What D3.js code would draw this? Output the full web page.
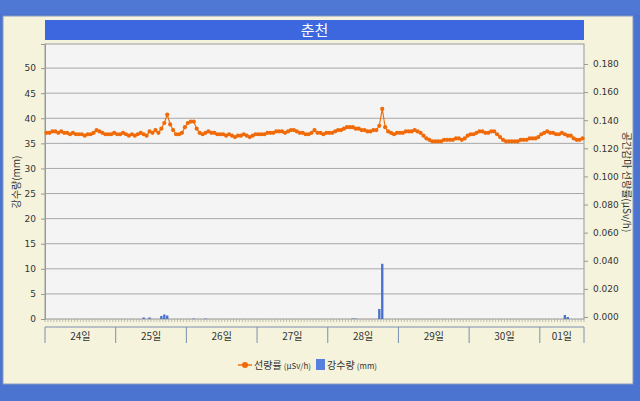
<!DOCTYPE html>
<html><head><meta charset="utf-8">
<script src="https://cdn.jsdelivr.net/npm/d3@7"></script>
<style>body{margin:0;background:#fff}svg{display:block;font-family:"Noto Sans CJK KR","DejaVu Sans",sans-serif}</style>
</head><body><svg id="c" width="640" height="401"></svg>
<script>
const title = "춘천";
const dayLabels = ["24일","25일","26일","27일","28일","29일","30일","01일"];
const hoursPerDay = [24,24,24,24,24,24,24,15];
const leftTicks = [0,5,10,15,20,25,30,35,40,45,50];
const rightTicks = [0,0.02,0.04,0.06,0.08,0.1,0.12,0.14,0.16,0.18];
// dose rate (µSv/h ×1000), hourly
const dose = [
131,131,132,132,131,132,131,131,130,131,130,130,130,129,130,130,131,133,132,131,130,130,130,131,
130,130,131,130,129,130,129,130,131,130,129,132,131,133,131,134,138,144,137,133,130,130,131,135,
138,139,139,134,131,130,131,132,131,131,130,130,130,129,130,129,128,129,129,130,129,128,129,130,
130,130,130,131,131,131,132,132,132,131,132,133,133,132,131,131,130,130,131,133,131,131,130,131,
131,131,132,133,133,134,135,135,135,134,134,133,133,132,132,133,133,136,148,135,132,131,130,131,
131,131,132,132,132,133,132,131,129,127,126,125,125,125,125,126,126,126,126,127,127,126,127,129,
130,130,131,132,132,131,131,132,132,130,128,126,125,125,125,125,125,126,126,126,127,127,127,128,
130,131,132,131,131,130,130,131,130,129,129,127,126,126,127];
// rainfall (mm): hour index and value
const rainHours = [33,35,39,40,41,50,54,104,105,113,114,176,177];
const rainVals  = [0.3,0.3,0.6,0.9,0.7,0.1,0.1,0.1,0.1,2.0,11.0,0.8,0.4];

const svg = d3.select("#c");
svg.append("rect").attr("width",640).attr("height",401).attr("fill","#4a74d0");
svg.append("rect").attr("x",3).attr("y",16).attr("width",630).attr("height",368).attr("fill","#f5f3dc").attr("stroke","#8a9cc0");
svg.append("rect").attr("x",0).attr("y",0).attr("width",640).attr("height",14).attr("fill","#4f78d4");

const L=45,R=584,T=44,B=319;
const totalH = d3.sum(hoursPerDay);
const x = d3.scaleLinear().domain([0,totalH]).range([L,R]);
const yL = d3.scaleLinear().domain([0,54.8]).range([B,T]);
const yR = d3.scaleLinear().domain([0,0.1942]).range([317,T]);

svg.append("rect").attr("x",L).attr("y",20).attr("width",R-L).attr("height",20).attr("fill","#3d67df");
svg.append("text").attr("x",(L+R)/2).attr("y",36).attr("text-anchor","middle").attr("fill","#fff").attr("font-size",15).text(title);

svg.append("rect").attr("x",L).attr("y",T).attr("width",R-L).attr("height",B-T).attr("fill","#f4f4f4").attr("stroke","#999");
svg.append("g").selectAll("line").data(leftTicks.slice(1)).join("line")
 .attr("x1",L).attr("x2",R).attr("y1",d=>yL(d)).attr("y2",d=>yL(d)).attr("stroke","#a8a8a8");
const ga = svg.append("g").attr("transform",`translate(${L},0)`).call(d3.axisLeft(yL).tickValues(leftTicks).tickSize(4).tickPadding(5));
ga.select(".domain").attr("stroke","#999");
ga.selectAll("text").attr("font-size",9).attr("fill","#333").attr("font-family","DejaVu Sans");
ga.selectAll(".tick line").attr("stroke","#999");
const gr = svg.append("g").attr("transform",`translate(${R},0)`).call(d3.axisRight(yR).tickValues(rightTicks).tickFormat(d3.format(".3f")).tickSize(4).tickPadding(5));
gr.select(".domain").remove();
gr.selectAll("text").attr("font-size",9).attr("fill","#333").attr("font-family","DejaVu Sans");
gr.selectAll(".tick line").attr("stroke","#999");

svg.append("text").attr("transform","translate(20,182) rotate(-90)").attr("text-anchor","middle").attr("font-size",10).attr("fill","#333").text("강수량(mm)");
svg.append("text").attr("transform","translate(623,182) rotate(90)").attr("text-anchor","middle").attr("font-size",10).attr("fill","#333").text("공간감마 선량률(µSv/h)");

const bw = x(1)-x(0);
svg.append("g").selectAll("rect").data(rainHours.map((h,i)=>({h,v:rainVals[i]}))).join("rect")
 .attr("x",d=>x(d.h)+0.3).attr("width",bw-0.6).attr("y",d=>yL(d.v)).attr("height",d=>B-yL(d.v)).attr("fill","#4a72cc");

svg.append("g").selectAll("line").data(d3.range(totalH+1)).join("line")
 .attr("x1",d=>x(d)).attr("x2",d=>x(d)).attr("y1",B).attr("y2",B+3).attr("stroke","#999").attr("stroke-width",0.6);

let starts=[0]; hoursPerDay.forEach((h,i)=>starts.push(starts[i]+h));
svg.append("line").attr("x1",L).attr("x2",R).attr("y1",327).attr("y2",327).attr("stroke","#7a8fb0");
svg.append("g").selectAll("line").data(starts).join("line")
 .attr("x1",d=>x(d)).attr("x2",d=>x(d)).attr("y1",327).attr("y2",343).attr("stroke","#7a8fb0");
svg.append("g").selectAll("text").data(dayLabels).join("text")
 .attr("x",(d,i)=>(x(starts[i])+x(starts[i+1]))/2).attr("y",340).attr("text-anchor","middle")
 .attr("font-size",10).attr("fill","#333").text(d=>d);

const pts = dose.map((v,i)=>[x(i+0.5), yR(v/1000)]);
svg.append("path").attr("d",d3.line()(pts)).attr("fill","none").attr("stroke","#f07010").attr("stroke-width",1.2);
svg.append("g").selectAll("circle").data(pts).join("circle").attr("cx",d=>d[0]).attr("cy",d=>d[1]).attr("r",2.1).attr("fill","#f06a08");

const lg = svg.append("g");
lg.append("line").attr("x1",238).attr("x2",252).attr("y1",365).attr("y2",365).attr("stroke","#f07010").attr("stroke-width",1.5);
lg.append("circle").attr("cx",245).attr("cy",365).attr("r",3).attr("fill","#f06a08");
lg.append("text").attr("x",254).attr("y",369).attr("font-size",10).attr("fill","#333").text("선량률 ").append("tspan").attr("font-size",8).text("(µSv/h)");
lg.append("rect").attr("x",316).attr("y",359).attr("width",9).attr("height",11).attr("fill","#5580dd");
lg.append("text").attr("x",327).attr("y",369).attr("font-size",10).attr("fill","#333").text("강수량 ").append("tspan").attr("font-size",8).text("(mm)");
</script></body></html>
